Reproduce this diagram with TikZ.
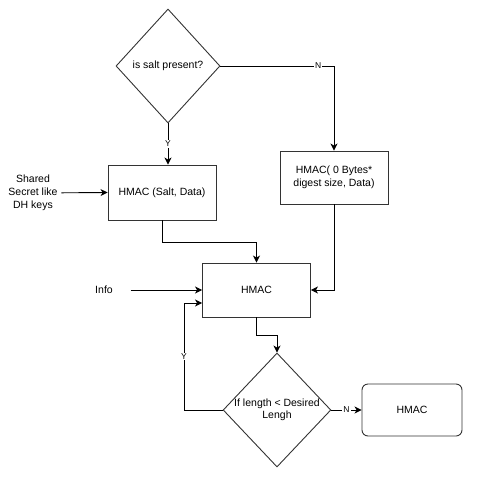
\documentclass[tikz,border=0pt]{standalone}
\usepackage{fontspec}
\setmainfont{Liberation Sans}
\usetikzlibrary{shapes.geometric,arrows.meta}

\begin{document}
\begin{tikzpicture}[
  x=1pt, y=-1pt, line width=0.9pt,
  decision/.style={diamond, draw=black!80, minimum width=104pt, minimum height=114pt, inner sep=0pt, align=center, font=\fontsize{10.5}{12.5}\selectfont},
  block/.style={rectangle, draw=black!80, minimum width=108pt, minimum height=54pt, align=center, font=\fontsize{10.5}{12.5}\selectfont},
  endblock/.style={block, rounded corners=6pt, minimum width=100pt, minimum height=52pt},
  flow/.style={draw, -{Stealth[length=7pt,width=7pt,inset=2pt]}},
  lbl/.style={fill=white, inner sep=1pt, font=\fontsize{8.5}{10}\selectfont}
]
\useasboundingbox (0,0) rectangle (487,480);

% Salt check and the two extract branches
\node[decision] (salt) at (168,66) {is salt present?};
\node[block, minimum height=55pt] (hsalt) at (162,192.5) {HMAC (Salt, Data)};
\node[block, minimum height=53pt] (hzero) at (334,177.5) {HMAC( 0 Bytes*\\digest size, Data)};
\node[align=center, font=\fontsize{10.5}{13}\selectfont] (secret) at (33,193) {Shared\\Secret like\\DH keys};

% Expand step
\node[block] (hmac) at (256.5,290) {HMAC};
\node[font=\fontsize{10.5}{12.5}\selectfont] (info) at (104,290) {Info};
\node[decision] (len) at (277,410) {If length {<} Desired\\Lengh};
\node[endblock] (out) at (412,410) {HMAC};
\coordinate (loop) at (184,303);

\draw[flow] (salt.south) -- node[lbl]{Y} (salt.south |- hsalt.north);
\draw[flow] (salt.east) -| node[lbl, pos=0.43]{N} (hzero.north);
\draw[flow] (secret) -- (hsalt.west);
\draw[flow] (hsalt.south) -- ++(0,21.5) -| (hmac.north);
\draw[flow] (hzero.south) |- (hmac.east);
\draw[flow, shorten <=14pt] (info) -- (hmac.west);
\draw[flow] (hmac.south) -- ++(0,18) -| (len.north);
\draw[flow] (len.west) -| node[lbl, pos=0.75]{Y} (loop) -- (hmac.west |- loop);
\draw[flow] (len.east) -- node[lbl]{N} (out.west);
\end{tikzpicture}
\end{document}
